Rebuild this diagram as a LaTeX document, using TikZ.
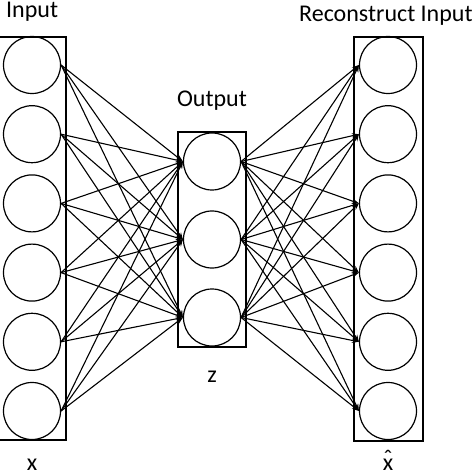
\documentclass[tikz,border=0pt]{standalone}
\usepackage{fontspec}
\setmainfont{Carlito}
\usetikzlibrary{arrows.meta}
\begin{document}
\begin{tikzpicture}[x=1bp,y=-1bp,
  neuron/.style={circle,draw,line width=1.2bp,minimum size=57bp,inner sep=0pt},
  layerbox/.style={draw,line width=1.2bp},
  conn/.style={line width=1.1bp,-{Stealth[length=7bp,width=5bp]}},
  lbl/.style={font=\fontsize{24bp}{28bp}\selectfont,inner sep=0pt}]
\useasboundingbox (0,0) rectangle (474,474);
% boxes
\draw[layerbox] (-3,37) rectangle (66,440);
\draw[layerbox] (178,132) rectangle (246,347);
\draw[layerbox] (354,37) rectangle (423,441);
% neurons
\foreach \i/\y in {1/65,2/134.2,3/203.4,4/272.6,5/341.8,6/411}{
  \node[neuron] (L\i) at (32,\y) {};
  \node[neuron] (R\i) at (388,\y) {};
}
\foreach \j/\y in {1/161.5,2/239.5,3/317.5}{
  \node[neuron] (M\j) at (212,\y) {};
}
% connections
\foreach \i in {1,...,6}{
  \foreach \j in {1,2,3}{
    \draw[conn] (L\i.east) -- (M\j.west);
    \draw[conn] (M\j.east) -- (R\i.west);
  }
}
% labels
\node[lbl,anchor=base west] (tin) at (6,18) {Input};
\node[lbl,anchor=base] (tout) at (212,107) {Output};
\node[lbl,anchor=base west] (trec) at (299,22) {Reconstruct Input};
\node[lbl,anchor=base] (tx) at (32,470) {x};
\node[lbl,anchor=base] (tz) at (212,382) {z};
\node[lbl,anchor=base] (txh) at (388,470) {\ooalign{x\cr\hidewidth\raisebox{4bp}{\char"02C6}\hidewidth\cr}};
\end{tikzpicture}
\end{document}
